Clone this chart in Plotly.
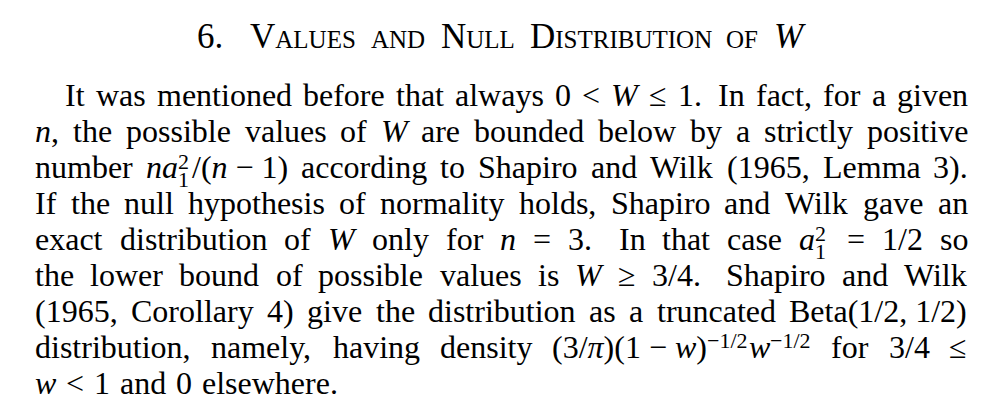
import re
import plotly.graph_objects as go

# page size in pixels; the axes are set up so one unit = one pixel
W_PX, H_PX = 986, 406
FONT = "Liberation Serif"
BODY = 32      # body text size
HEAD = 35      # heading size
SCRIPT = 22    # sub / superscript size
X_NUDGE = -8   # annotation boxes start a little to the right of their x

# heading words (set in small caps)
title_words = ["6.", "Values", "and", "Null", "Distribution", "of", "<i>W</i>"]

# paragraph, one list of words per printed line
# _{..} = subscript, ^{..} = superscript (glued to the word before)
line1 = ["It", "was", "mentioned", "before", "that", "always", "0", "<", "<i>W</i>", "≤",
         "1.", "In", "fact,", "for", "a", "given"]
line2 = ["<i>n</i>,", "the", "possible", "values", "of", "<i>W</i>", "are", "bounded",
         "below", "by", "a", "strictly", "positive"]
line3 = ["number", "<i>na</i>_{1}^{2}/(<i>n</i> − 1)", "according", "to", "Shapiro", "and",
         "Wilk", "(1965,", "Lemma", "3)."]
line4 = ["If", "the", "null", "hypothesis", "of", "normality", "holds,", "Shapiro", "and",
         "Wilk", "gave", "an"]
line5 = ["exact", "distribution", "of", "<i>W</i>", "only", "for", "<i>n</i>", "=", "3.",
         "In", "that", "case", "<i>a</i>_{1}^{2}", "=", "1/2", "so"]
line6 = ["the", "lower", "bound", "of", "possible", "values", "is", "<i>W</i>", "≥", "3/4.",
         "Shapiro", "and", "Wilk"]
line7 = ["(1965,", "Corollary", "4)", "give", "the", "distribution", "as", "a", "truncated",
         "Beta(1/2, 1/2)"]
line8 = ["distribution,", "namely,", "having", "density",
         "(3/<i>π</i>)(1 − <i>w</i>)^{−1/2}<i>w</i>^{−1/2}", "for", "3/4", "≤"]
line9 = ["<i>w</i>", "<", "1", "and", "0", "elsewhere."]

lines = [line1, line2, line3, line4, line5, line6, line7, line8, line9]

# text block geometry (pixels)
left = [65, 35, 35, 35, 35, 35, 35, 35, 35]
right = [968, 968, 968, 968, 968, 968, 967, 967, 338]
first_base = 104.5
leading = 36
title_left, title_right, title_base = 197, 803, 48

# Liberation Serif = Times metrics (1/1000 em)
ROMAN = {" ": 250, "a": 444, "b": 500, "c": 444, "d": 500, "e": 444, "f": 333, "g": 500,
         "h": 500, "i": 278, "j": 278, "k": 500, "l": 278, "m": 778, "n": 500, "o": 500,
         "p": 500, "q": 500, "r": 333, "s": 389, "t": 278, "u": 500, "v": 500, "w": 722,
         "x": 500, "y": 500, "z": 444, "A": 722, "B": 667, "C": 667, "D": 722, "E": 611,
         "F": 556, "I": 333, "L": 611, "N": 722, "O": 722, "R": 667, "S": 556, "T": 611,
         "U": 722, "V": 722, "W": 944, "(": 333, ")": 333, ",": 250, ".": 250, "/": 278,
         "<": 564, "=": 564, "−": 564, "≤": 549, "≥": 549, "π": 549}
ITALIC = {"a": 500, "n": 500, "w": 667, "W": 833, "π": 500}


def text_width(s, size, small_caps=False):
    w, ital, i = 0, False, 0
    while i < len(s):
        if s.startswith("<i>", i):
            ital, i = True, i + 3
            continue
        if s.startswith("</i>", i):
            ital, i = False, i + 4
            continue
        ch = s[i]
        if small_caps and ch.islower():
            w += ROMAN.get(ch.upper(), 667) * 0.7
        else:
            w += (ITALIC if ital else ROMAN).get(ch, ROMAN.get(ch, 500))
        i += 1
    return w * size / 1000


def mid_y(base, size):
    # annotation centre sits this far above the baseline
    return base - 0.556 * size


def ann(txt, x, base, size, variant="normal"):
    return dict(text=txt, x=x + X_NUDGE, y=mid_y(base, size), xref="x", yref="y",
                xanchor="left", yanchor="middle", showarrow=False,
                borderpad=0, borderwidth=0,
                font=dict(family=FONT, size=size, color="black", variant=variant))


def layout_token(tok, x0, base, out):
    # place the pieces of one word, return its width
    parts = [p for p in re.split(r"(\^\{[^}]*\}|_\{[^}]*\})", tok) if p]
    x = x0
    sub_start, sub_w, prev_sub = x0, 0, False
    for p in parts:
        if p.startswith("_{"):
            t = p[2:-1]
            sub_start, sub_w = x, text_width(t, SCRIPT)
            if out is not None:
                out.append(ann(t, x, base + 7, SCRIPT))
            x += sub_w + 1
            prev_sub = True
        elif p.startswith("^{"):
            t = p[2:-1]
            w = text_width(t, SCRIPT)
            if prev_sub:
                if out is not None:
                    out.append(ann(t, sub_start, base - 11, SCRIPT))
                x = sub_start + max(sub_w, w) + 3
            else:
                if out is not None:
                    out.append(ann(t, x, base - 12, SCRIPT))
                x += w + 1
            prev_sub = False
        else:
            if out is not None:
                out.append(ann(p, x, base, BODY))
            x += text_width(p, BODY)
            prev_sub = False
    return x - x0


annotations = []

# heading: spread the words over the measured width
tw = [text_width(t, HEAD, small_caps=True) for t in title_words]
t_nat = [20] + [10] * (len(title_words) - 2)
t_st = [5] * (len(title_words) - 1)
r = (title_right - title_left - sum(tw) - sum(t_nat)) / sum(t_st)
x = title_left
for k, t in enumerate(title_words):
    annotations.append(ann(t, x, title_base, HEAD,
                           "normal" if t.startswith("<i>") else "small-caps"))
    if k < len(t_nat):
        x += tw[k] + t_nat[k] + t_st[k] * r

# paragraph: each line justified between its margins, TeX-style glue
for li, toks in enumerate(lines):
    base = first_base + li * leading
    widths = [layout_token(t, 0, base, None) for t in toks]
    nat, st = [], []
    for t in toks[:-1]:
        if t.endswith("."):     # sentence end gets a wider space
            nat.append(14)
            st.append(9)
        else:
            nat.append(10)
            st.append(5)
    avail = right[li] - left[li] - sum(widths)
    r = (avail - sum(nat)) / sum(st)
    x = left[li]
    for k, t in enumerate(toks):
        layout_token(t, x, base, annotations)
        if k < len(nat):
            x += widths[k] + nat[k] + st[k] * r

fig = go.Figure()
fig.update_layout(
    width=W_PX, height=H_PX,
    margin=dict(l=0, r=0, t=0, b=0),
    paper_bgcolor="white", plot_bgcolor="white",
    xaxis=dict(range=[0, W_PX], visible=False),
    yaxis=dict(range=[H_PX, 0], visible=False),
    annotations=annotations,
    showlegend=False,
)
fig.write_html("out.html")
